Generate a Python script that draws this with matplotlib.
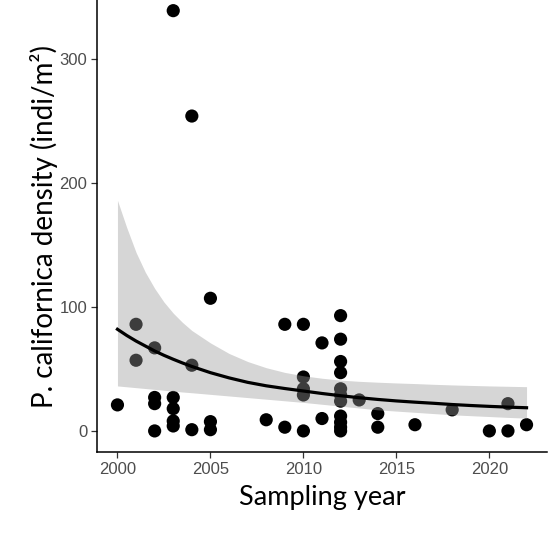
import matplotlib
matplotlib.use("Agg")
import matplotlib.pyplot as plt
import numpy as np

year = [2000, 2001, 2001, 2002, 2002, 2002, 2002,
        2003, 2003, 2003, 2003, 2003,
        2004, 2004, 2004, 2005, 2005, 2005,
        2008, 2009, 2009,
        2010, 2010, 2010, 2010, 2010,
        2011, 2011,
        2012, 2012, 2012, 2012, 2012, 2012, 2012, 2012, 2012, 2012, 2012,
        2013, 2014, 2014, 2016, 2018, 2020, 2021, 2021, 2022]
density = [21, 86, 57, 67, 27, 22, 0,
           339, 27, 18, 8, 4,
           254, 53, 1, 107, 7.5, 1,
           9, 86, 3,
           86, 43.5, 34, 29, 0,
           71, 10,
           93, 74, 56, 47, 34, 29, 24, 12, 7, 3, 0,
           25, 14, 3, 5, 17, 0, 22, 0, 5]

# fitted curve and confidence band
fit_year = [2000, 2000.5, 2001, 2001.5, 2002, 2002.5, 2003, 2003.5, 2004,
            2005, 2006, 2007, 2008, 2009, 2010, 2011, 2012, 2013, 2014,
            2015, 2016, 2017, 2018, 2019, 2020, 2021, 2022]
fit = [82, 77, 72.5, 68.5, 64.5, 61, 57.8, 54.8, 52,
       47, 42.8, 39.2, 36.4, 34.2, 32.2, 30.2, 28.4, 26.8, 25.4,
       24.2, 23.2, 22.3, 21.3, 20.5, 19.8, 19.2, 18.7]
upper = [186, 164, 144, 128, 115, 104, 95, 87.5, 81,
         71, 62.5, 56, 51, 47.2, 44.5, 42.5, 41, 40, 39.3,
         38.7, 38.2, 37.6, 37.1, 36.7, 36.3, 36, 35.7]
lower = [36.3, 35.6, 34.9, 34.2, 33.5, 32.8, 32.1, 31.4, 30.8,
         29.5, 28.2, 26.9, 25.6, 24.3, 23, 21.5, 20, 18.5, 17,
         16, 15, 14, 13, 12.3, 11.6, 10.9, 10.3]

x_ticks = [2000, 2005, 2010, 2015, 2020]
y_ticks = [0, 100, 200, 300]

fig = plt.figure(figsize=(5.56, 5.39), dpi=100)
ax = fig.add_axes([97 / 556, 1 - 452 / 539, 450 / 556, 452 / 539])

ax.scatter(year, density, s=90, color="black", edgecolors="none", zorder=2)
ax.fill_between(fit_year, lower, upper, color="#999999", alpha=0.4,
                linewidth=0, zorder=3)
ax.plot(fit_year, fit, color="black", lw=2.3, zorder=4)

ax.set_xlim(1998.9, 2023.1)
ax.set_ylim(-17, 347.6)
ax.set_xticks(x_ticks)
ax.set_yticks(y_ticks)

for s in ["top", "right"]:
    ax.spines[s].set_visible(False)
for s in ["left", "bottom"]:
    ax.spines[s].set_linewidth(1.1)
    ax.spines[s].set_color("black")

ax.tick_params(axis="both", length=4, width=0.9, color="#333333",
               labelcolor="#4D4D4D", labelsize=12, pad=3)
for lab in ax.get_xticklabels() + ax.get_yticklabels():
    lab.set_family("Liberation Sans")

ax.set_xlabel("Sampling year", family="Lato", fontsize=19.5, labelpad=6)
ax.set_ylabel("P. californica density (indi/m\u00b2)", family="Lato",
              fontsize=20, labelpad=1)

fig.savefig("out.png", dpi=100)
